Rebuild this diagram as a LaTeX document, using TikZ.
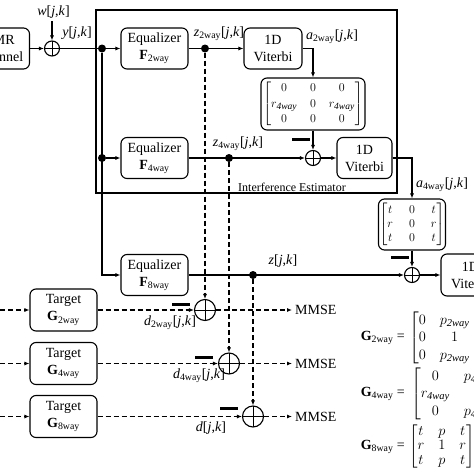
\documentclass[tikz,border=0pt]{standalone}
\usepackage{amsmath}
\usepackage{fontspec}
\setmainfont{Liberation Serif}
\usetikzlibrary{arrows.meta}
\newcommand\mysig[2]{\textit{#1}\textsubscript{#2}[\textit{j},\textit{k}]}
\newcommand\msub[2]{\text{\fontsize{#1}{#1}\selectfont\itshape #2}}
\begin{document}
\begin{tikzpicture}[x=1pt,y=-1pt,
  every node/.style={font=\fontsize{14}{17}\selectfont},
  blk/.style={draw, rounded corners=6pt, line width=1.1pt, align=center, inner sep=0pt},
  ln/.style={line width=1.1pt},
  arr/.style={ln, -{Latex[length=5pt,width=4pt]}},
  dsh/.style={line width=1.2pt, dash pattern=on 5pt off 3pt},
  darr/.style={dsh, -{Latex[length=5pt,width=4pt]}},
  adder/.style={draw, circle, line width=1.1pt, inner sep=0pt, minimum size=#1,
    path picture={\draw[line width=0.9pt] (path picture bounding box.north) -- (path picture bounding box.south)
      (path picture bounding box.west) -- (path picture bounding box.east);}},
  adder/.default=15pt,
  dot/.style={circle, fill, inner sep=0pt, minimum size=8pt},
  minusbar/.style={line width=3pt},
  lbl/.style={inner sep=0pt},
]
\useasboundingbox (0,0) rectangle (474,474);
\clip (0,0) rectangle (474,474);
\fill[white] (0,0) rectangle (474,474);

% interference estimator frame
\node[draw, line width=1.1pt, minimum width=301pt, minimum height=183pt, inner sep=0pt] (ie) at (246.5,101.5) {};
\node[lbl, font=\fontsize{12}{14}\selectfont] (iel) at (292,187) {Interference Estimator};

% top row
\node[blk, minimum width=59pt, minimum height=41pt] (chan) at (0,48.5) {PMR\\Channel};
\node[adder] (add1) at (52,48.5) {};
\coordinate (wtop) at (52,21);
\node[lbl] (wl) at (53.5,12) {\textit{w}[\textit{j},\textit{k}]};
\node[lbl] (yl) at (77,33) {\textit{y}[\textit{j},\textit{k}]};
\node[dot] (d1) at (102,48.5) {};
\node[blk, minimum width=67pt, minimum height=41pt] (eq2) at (154.5,48.5) {Equalizer\\\textbf{F}\textsubscript{2way}};
\node[dot] (z2) at (205,48.5) {};
\node[lbl] (z2l) at (219,34) {\mysig{z}{2way}};
\node[blk, minimum width=58pt, minimum height=41pt] (vit1) at (273,48.5) {1D\\Viterbi};
\node[lbl] (a2l) at (332,37) {\mysig{a}{2way}};
\node[blk, minimum width=104pt, minimum height=52pt] (mat1) at (313,104)
  {\fontsize{12.5}{15.5}\selectfont\arraycolsep=6.5pt$\begin{bmatrix} 0 & 0 & 0\\ r_{\msub{9.5}{4way}} & 0 & r_{\msub{9.5}{4way}}\\ 0 & 0 & 0\end{bmatrix}$};
\node[adder] (add2) at (313,158) {};

% middle row
\node[dot] (d2) at (102,158) {};
\node[blk, minimum width=67pt, minimum height=41pt] (eq4) at (154.5,158) {Equalizer\\\textbf{F}\textsubscript{4way}};
\node[dot] (z4) at (229,158) {};
\node[lbl] (z4l) at (238,144) {\mysig{z}{4way}};
\node[blk, minimum width=55pt, minimum height=41pt] (vit2) at (364.5,158) {1D\\Viterbi};
\node[lbl] (a4l) at (442,185) {\mysig{a}{4way}};
\node[blk, minimum width=67pt, minimum height=51pt] (mat2) at (412,224.5)
  {\fontsize{12.5}{14}\selectfont\arraycolsep=8pt$\begin{bmatrix} t & 0 & t\\ r & 0 & r\\ t & 0 & t\end{bmatrix}$};
\node[adder] (add3) at (412,275) {};

% 8way row
\node[blk, minimum width=67pt, minimum height=41pt] (eq8) at (154.5,275) {Equalizer\\\textbf{F}\textsubscript{8way}};
\node[dot] (z8) at (253,275) {};
\node[lbl] (zl) at (283,261) {\textit{z}[\textit{j},\textit{k}]};
\node[blk, minimum width=59pt, minimum height=42pt] (vit3) at (470.5,275) {1D\\Viterbi};

% target rows
\coordinate (in1) at (0,310);
\coordinate (in2) at (0,363.5);
\coordinate (in3) at (0,416.5);
\node[blk, minimum width=67pt, minimum height=42pt] (tg1) at (63.5,310) {Target\\\textbf{G}\textsubscript{2way}};
\node[blk, minimum width=67pt, minimum height=42pt] (tg2) at (63.5,363.5) {Target\\\textbf{G}\textsubscript{4way}};
\node[blk, minimum width=67pt, minimum height=42pt] (tg3) at (63.5,416.5) {Target\\\textbf{G}\textsubscript{8way}};
\node[adder=21pt] (add4) at (205,310) {};
\node[adder=21pt] (add5) at (229,363.5) {};
\node[adder=21pt] (add6) at (253,416.5) {};
\node[lbl] (d2l) at (170,323) {\mysig{d}{2way}};
\node[lbl] (d4l) at (199,376) {\mysig{d}{4way}};
\node[lbl] (dl) at (211,428) {\textit{d}[\textit{j},\textit{k}]};
\node[anchor=west, inner sep=3pt] (m1) at (292,310) {MMSE};
\node[anchor=west, inner sep=3pt] (m2) at (292,363.5) {MMSE};
\node[anchor=west, inner sep=3pt] (m3) at (292,416.5) {MMSE};

% G definitions
\node[anchor=east, inner sep=0pt] (g2) at (405,338) {\textbf{G}\textsubscript{2way} =};
\node[anchor=west, inner sep=0pt] (g2m) at (409,338)
  {\fontsize{14}{17.5}\selectfont\arraycolsep=7pt$\begin{bmatrix} 0 & p_{\msub{10.5}{2way}} & 0\\ 0 & 1 & 0\\ 0 & p_{\msub{10.5}{2way}} & 0\end{bmatrix}$};
\node[anchor=east, inner sep=0pt] (g4) at (405,394) {\textbf{G}\textsubscript{4way} =};
\node[anchor=west, inner sep=0pt] (g4m) at (411,394)
  {\fontsize{14}{17.5}\selectfont\arraycolsep=7pt$\begin{bmatrix} 0 & p_{\msub{10.5}{4way}} & 0\\ r_{\msub{10.5}{4way}} & 1 & r_{\msub{10.5}{4way}}\\ 0 & p_{\msub{10.5}{4way}} & 0\end{bmatrix}$};
\node[anchor=east, inner sep=0pt] (g8) at (405,447) {\textbf{G}\textsubscript{8way} =};
\node[anchor=west, inner sep=0pt] (g8m) at (409,447)
  {\fontsize{14}{14.5}\selectfont\arraycolsep=7pt$\begin{bmatrix} t & p & t\\ r & 1 & r\\ t & p & t\end{bmatrix}$};

% solid connectors
\draw[arr] (chan) -- (add1);
\draw[arr] (wtop) -- (add1);
\draw[arr] (add1) -- (eq2);
\draw[arr] (eq2) -- (vit1);
\draw[arr] (vit1.east) -| (mat1.north);
\draw[arr] (mat1) -- (add2);
\draw[arr] (d1) |- (eq8.west);
\draw[arr] (d2) -- (eq4);
\draw[arr] (eq4) -- (add2);
\draw[arr] (add2) -- (vit2);
\draw[arr] (vit2.east) -| (mat2.north);
\draw[arr] (mat2) -- (add3);
\draw[arr] (eq8) -- (add3);
\draw[arr] (add3) -- (vit3);

% dashed connectors
\draw[darr] (z2) -- (add4);
\draw[darr] (z4) -- (add5);
\draw[darr] (z8) -- (add6);
\draw[darr] (in1) -- (tg1);
\draw[darr] (in2) -- (tg2);
\draw[darr] (in3) -- (tg3);
\draw[darr] (tg1) -- (add4);
\draw[darr] (tg2) -- (add5);
\draw[darr] (tg3) -- (add6);
\draw[darr] (add4) -- (m1);
\draw[darr] (add5) -- (m2);
\draw[darr] (add6) -- (m3);

% minus bars
\draw[minusbar] (292,139) -- (310,139);
\draw[minusbar] (391,257) -- (409,257);
\draw[minusbar] (172,304) -- (190,304);
\draw[minusbar] (195,357) -- (213,357);
\draw[minusbar] (220,408) -- (238,408);
\end{tikzpicture}
\end{document}
